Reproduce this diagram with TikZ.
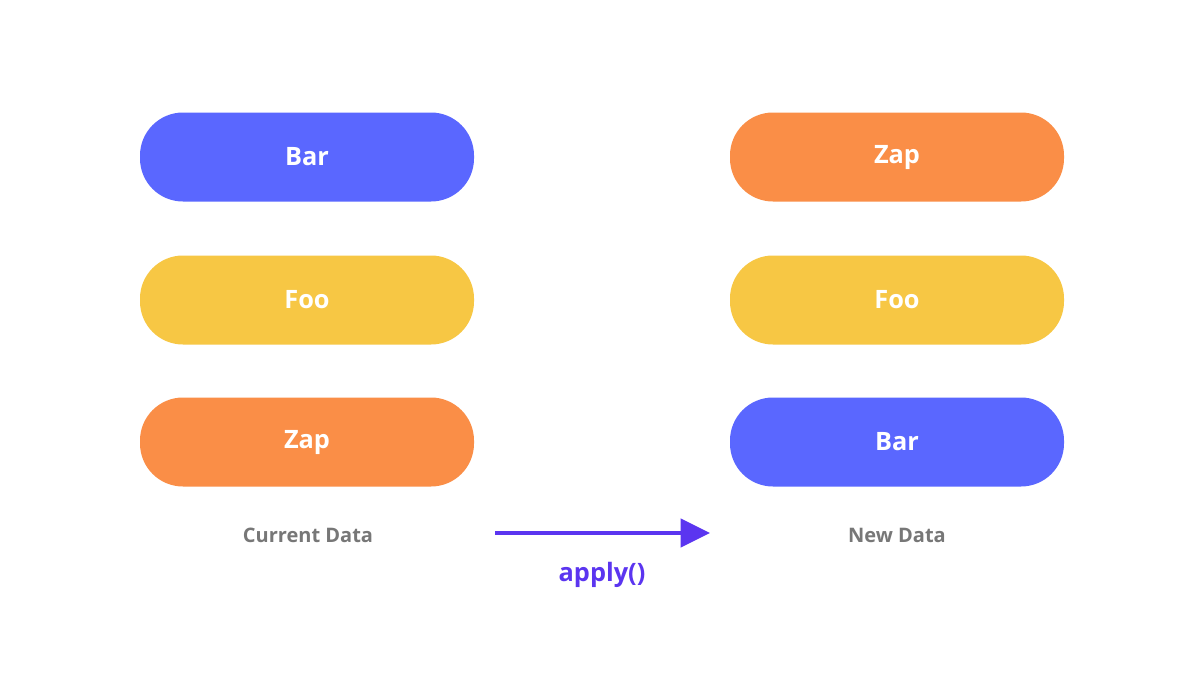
\documentclass[tikz,border=0pt]{standalone}
\usepackage{fontspec}
\setmainfont{Open Sans}
\usetikzlibrary{arrows.meta}
\definecolor{cblue}{HTML}{5A67FF}
\definecolor{cyellow}{HTML}{F7C744}
\definecolor{corange}{HTML}{FA8E47}
\definecolor{cgray}{HTML}{777777}
\definecolor{cpurple}{HTML}{5B35F0}
\begin{document}
\begin{tikzpicture}[x=0.75pt,y=-0.75pt,
  pill/.style={minimum width=334*0.75pt,minimum height=89*0.75pt,rounded corners=43*0.75pt,
    text=white,font=\fontsize{19}{19}\selectfont\bfseries,inner sep=0pt},
  captext/.style={text=cgray,font=\fontsize{15}{15}\selectfont\bfseries}]
\useasboundingbox (0,0) rectangle (1200,687);
\fill[white] (0,0) rectangle (1200,687);
\node[pill,fill=cblue] (l1) at (307,157) {Bar};
\node[pill,fill=cyellow] (l2) at (307,300) {Foo};
\node[pill,fill=corange] (l3) at (307,442) {Zap};
\node[pill,fill=corange] (r1) at (897,157) {Zap};
\node[pill,fill=cyellow] (r2) at (897,300) {Foo};
\node[pill,fill=cblue] (r3) at (897,442) {Bar};
\node[captext] (lc) at (308,535) {Current Data};
\node[captext] (rc) at (897,535) {New Data};
\coordinate (a1) at (495,533);
\coordinate (a2) at (710,533);
\draw[cpurple,line width=3pt,-{Triangle[length=22pt,width=21pt]}] (a1) -- (a2);
\node[text=cpurple,font=\fontsize{19}{19}\selectfont\bfseries] (ap) at (602,575) {apply()};
\end{tikzpicture}
\end{document}
